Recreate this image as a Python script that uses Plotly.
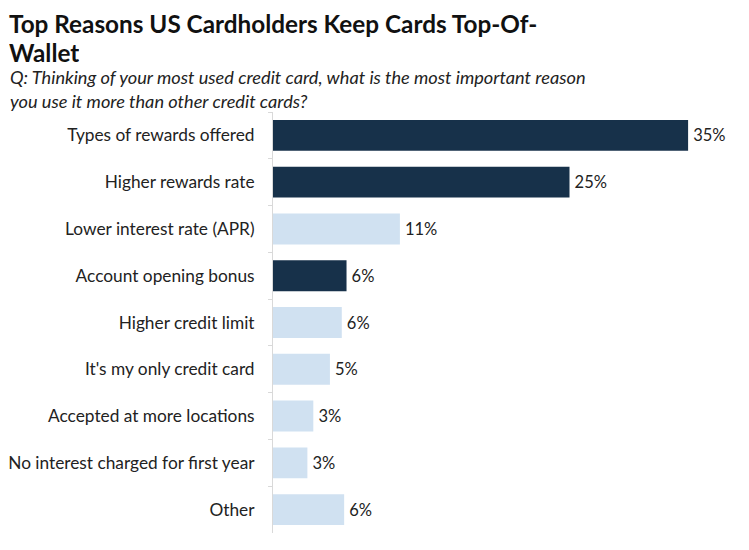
import plotly.graph_objects as go

categories = [
    "Types of rewards offered",
    "Higher rewards rate",
    "Lower interest rate (APR)",
    "Account opening bonus",
    "Higher credit limit",
    "It's my only credit card",
    "Accepted at more locations",
    "No interest charged for first year",
    "Other",
]
values = [35.0, 25.0, 10.7, 6.2, 5.8, 4.8, 3.4, 2.9, 6.0]
highlight = [True, True, False, True, False, False, False, False, False]

title_lines = ["Top Reasons US Cardholders Keep Cards Top-Of-", "Wallet"]
subtitle = ("Q: Thinking of your most used credit card, what is the most important reason"
            "<br>you use it more than other credit cards?")

DARK = "#17314a"
LIGHT = "#d0e1f1"
colors = [DARK if h else LIGHT for h in highlight]

# page offset (browser body margin)
OFF = 8
W, H = 749 - OFF, 550 - OFF
L, R, T, B = 273 - OFF, 9, 112 - OFF, 17
pw, ph = W - L - R, H - T - B

def px_x(p):
    return (p - OFF - L) / pw

def px_y(p):
    return 1 - (p - OFF - T) / ph

fig = go.Figure(
    go.Bar(
        x=values,
        y=categories,
        orientation="h",
        marker=dict(color=colors, line=dict(width=0)),
        texttemplate="\u2009%{x:.0f}%",
        textposition="outside",
        textfont=dict(family="Lato", size=16.5, color="#222222"),
        cliponaxis=False,
        hoverinfo="skip",
    )
)

title_font = dict(family="Lato", size=24.3, color="#111111")

fig.update_layout(
    width=W,
    height=H,
    margin=dict(l=L, r=R, t=T, b=B, autoexpand=False),
    paper_bgcolor="white",
    plot_bgcolor="white",
    bargap=0.34,
    showlegend=False,
    font=dict(family="Lato", color="#222222"),
    xaxis=dict(
        range=[0, pw / 11.86],
        visible=False,
        fixedrange=True,
    ),
    yaxis=dict(
        autorange="reversed",
        showline=True,
        linecolor="#d9d9d9",
        linewidth=1,
        ticks="outside",
        tickson="boundaries",
        ticklen=4,
        tickcolor="#d9d9d9",
        ticklabelstandoff=14,
        tickfont=dict(family="Lato", size=17.3, color="#222222"),
        showgrid=False,
    ),
    annotations=[
        dict(
            text="<b>" + title_lines[0] + "</b>",
            xref="paper", yref="paper",
            x=px_x(8), y=px_y(8),
            xanchor="left", yanchor="top", borderpad=0,
            align="left", showarrow=False,
            font=title_font,
        ),
        dict(
            text="<b>" + title_lines[1] + "</b>",
            xref="paper", yref="paper",
            x=px_x(8), y=px_y(40),
            xanchor="left", yanchor="top", borderpad=0, height=22,
            align="left", valign="middle", showarrow=False,
            font=title_font,
        ),
        dict(
            text="<i>" + subtitle + "</i>",
            xref="paper", yref="paper",
            x=px_x(8), y=px_y(64),
            xanchor="left", yanchor="top",
            align="left", showarrow=False,
            font=dict(family="Lato", size=18.2, color="#222222"),
        ),
    ],
)

fig.write_html("out.html")
